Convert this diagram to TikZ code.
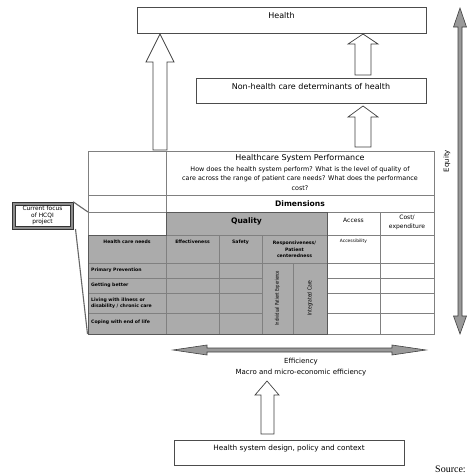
\documentclass[tikz,border=0pt]{standalone}
\usepackage{fontspec}
\setmainfont{DejaVu Sans}
\newfontfamily\srcfont{Liberation Serif}
\newcommand\fsz[2]{\fontsize{#1}{#2}\selectfont}
\tikzset{
  box/.style={draw=black!70, line width=0.7pt, inner sep=0pt},
  hollow/.style={draw=black!75, fill=white, line width=0.7pt, line join=miter},
  grayarrow/.style={draw=black!75, fill=black!40, line width=0.6pt, line join=miter},
  gridline/.style={draw=black!50, line width=0.6pt},
  lbl/.style={inner sep=0pt, align=center},
  hdr/.style={lbl, font=\bfseries\fsz{4.6}{6}},
  rowlbl/.style={inner sep=0pt, anchor=west, align=left, font=\bfseries\fsz{4.6}{6.2}},
}
\begin{document}
\begin{tikzpicture}[x=1pt,y=-1pt]
\useasboundingbox (0,0) rectangle (474,474);
\fill[white] (0,0) rectangle (474,474);

% top boxes
\node[box, minimum width=289pt, minimum height=26pt] (health) at (281.5,20) {};
\node[lbl, font=\fsz{8}{9}] (healthT) at (281.5,16) {Health};
\node[box, minimum width=230pt, minimum height=25pt] (nonh) at (311,90.5) {};
\node[lbl, font=\fsz{8}{9}] (nonhT) at (311,86.5) {Non-health care determinants of health};

% hollow arrows
\draw[hollow] (153,150) -- (153,62) -- (146,62) -- (160,34) -- (174,62) -- (167,62) -- (167,150) -- cycle;
\draw[hollow] (355,75) -- (355,44) -- (348,44) -- (363,34) -- (378,44) -- (371,44) -- (371,75) -- cycle;
\draw[hollow] (355,147) -- (355,117) -- (348,117) -- (363,106) -- (378,117) -- (371,117) -- (371,147) -- cycle;
\draw[hollow] (261,434) -- (261,395) -- (255,395) -- (267,381) -- (279,395) -- (274,395) -- (274,434) -- cycle;

% equity arrow
\draw[grayarrow] (460,8) -- (466.5,27) -- (462,27) -- (462,316) -- (466.5,316) -- (460,334)
  -- (453.5,316) -- (458,316) -- (458,27) -- (453.5,27) -- cycle;
\node[lbl, rotate=90, font=\fsz{7}{8}] (equity) at (447,161) {Equity};

% efficiency arrow
\draw[grayarrow] (173,350) -- (207,345) -- (207,348) -- (392,348) -- (392,345) -- (426,350)
  -- (392,355) -- (392,352) -- (207,352) -- (207,355) -- cycle;
\node[lbl, font=\fsz{7}{8}] (eff1) at (301,362) {Efficiency};
\node[lbl, font=\fsz{7}{8}] (eff2) at (301,373) {Macro and micro-economic efficiency};

% bottom box
\node[box, minimum width=230pt, minimum height=25pt] (design) at (289,452.5) {};
\node[lbl, font=\fsz{7.3}{8}] (designT) at (289,448.5) {Health system design, policy and context};

% table: gray region
\fill[black!33] (166,212) -- (327,212) -- (327,334) -- (88,334) -- (88,235) -- (166,235) -- cycle;
% grid
\draw[gridline] (88,151) rectangle (434,334);
\draw[gridline] (88,195) -- (434,195);
\draw[gridline] (88,212) -- (434,212);
\draw[gridline] (88,235) -- (434,235);
\draw[gridline] (88,263) -- (434,263);
\foreach \yy in {278,293,313} {
  \draw[gridline] (88,\yy) -- (262,\yy);
  \draw[gridline] (327,\yy) -- (434,\yy);
}
\draw[gridline] (166,151) -- (166,334);
\draw[gridline] (219,235) -- (219,334);
\draw[gridline] (262,235) -- (262,334);
\draw[gridline] (293,263) -- (293,334);
\draw[gridline] (327,212) -- (327,334);
\draw[gridline] (380,212) -- (380,334);
% gray border
\draw[black!65, line width=1pt, line join=miter] (166,212) -- (327,212) -- (327,334) -- (88,334) -- (88,235) -- (166,235) -- cycle;

% table texts
\node[lbl, font=\fsz{8}{9}] (perfT) at (300,158) {Healthcare System Performance};
\node[lbl, font=\fsz{6.4}{9.4}] (perfQ) at (300,178.5) {How does the health system perform? What is the level of quality of\\care across the range of patient care needs? What does the performance\\cost?};
\node[lbl, font=\bfseries\fsz{7.6}{9}] (dims) at (300,203.5) {Dimensions};
\node[lbl, font=\bfseries\fsz{7.6}{9}] (quality) at (246.5,221) {Quality};
\node[lbl, font=\fsz{6}{7}] (access) at (353.5,220) {Access};
\node[lbl, font=\fsz{6}{9.5}] (cost) at (407,222.5) {Cost/\\expenditure};
\node[hdr] (hcn) at (127,242) {Health care needs};
\node[hdr] (effc) at (192.5,242) {Effectiveness};
\node[hdr] (safety) at (240.5,242) {Safety};
\node[hdr, font=\bfseries\fsz{4.6}{6.6}] (resp) at (294.5,249.5) {Responsiveness/\\Patient\\centeredness};
\node[lbl, font=\fsz{4.4}{5}] (accb) at (353.5,241) {Accessibility};
\node[rowlbl] (r1) at (91,270.5) {Primary Prevention};
\node[rowlbl] (r2) at (91,285.5) {Getting better};
\node[rowlbl] (r3) at (91,303) {Living with illness or\\disability / chronic care};
\node[rowlbl] (r4) at (91,322.5) {Coping with end of life};
\node[lbl, rotate=90, font=\fsz{5.2}{6}, xscale=0.72] (ipe) at (277.5,298) {Individual Patient Experience};
\node[lbl, rotate=90, font=\fsz{5.6}{6}, xscale=0.8] (ic) at (310,298) {Integrated Care};

% current focus box
\draw[black!45, line width=2pt] (13.5,203.5) rectangle (71.5,227.5);
\draw[black!80, line width=0.5pt] (12,202) rectangle (73,229);
\draw[black!80, line width=0.4pt] (14.8,204.8) rectangle (70.2,226.2);
\node[lbl, minimum width=61pt, minimum height=27pt, font=\fsz{5.9}{6.6}] (focus) at (42.5,215.5) {Current focus\\of HCQI\\project};
\coordinate (tblTL) at (88,212);
\coordinate (tblBL) at (87.5,334);
\coordinate (focusBR) at (75.5,229);
\draw[black!60, line width=1.1pt] (focus.north east) -- (tblTL);
\draw[black!60, line width=1.1pt] (focusBR) -- (tblBL);

% source
\node[anchor=base west, inner sep=0pt, font=\srcfont\fsz{10}{12}] (src) at (435,472) {Source:};
\end{tikzpicture}
\end{document}
